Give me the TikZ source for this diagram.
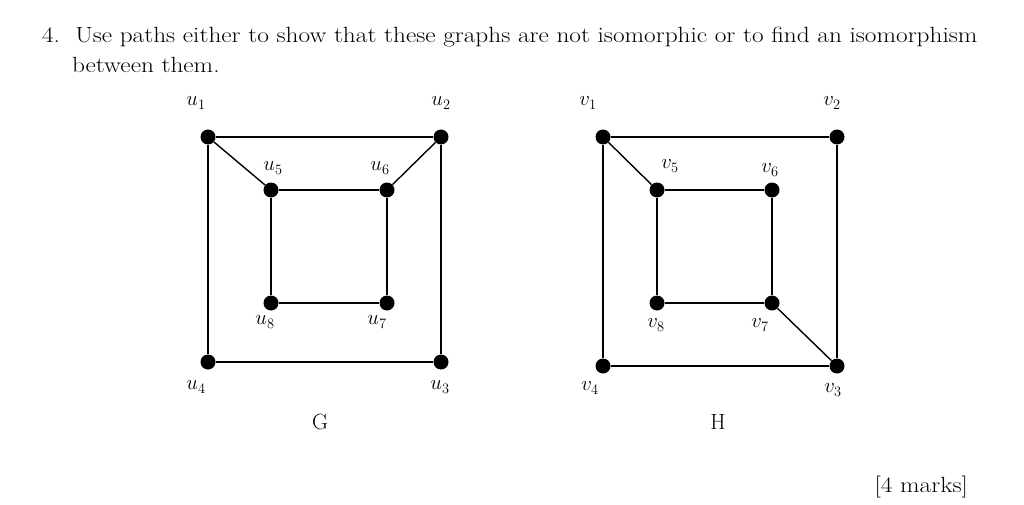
\documentclass[tikz,border=0pt]{standalone}
\begin{document}
\begin{tikzpicture}[x=1pt,y=-1pt,
  vtx/.style={circle,fill=black,inner sep=0pt,minimum size=15pt},
  lbl/.style={font=\fontsize{22}{24}\selectfont},
  edge/.style={line width=1.4pt}]
\useasboundingbox (0,0) rectangle (1024,505);
\node[lbl,anchor=west,xscale=1.15] (t1) at (38,37) {4.\ \ Use paths either to show that these graphs are not isomorphic or to find an isomorphism};
\node[lbl,anchor=west,xscale=1.15] (t2) at (68,65) {between them.};
\node[lbl,anchor=east,xscale=1.15] (mk) at (972,487) {[4 marks]};
\foreach \n/\x/\y in {u1/208/137,u2/441/137,u5/271/190,u6/387/190,u8/271/303,u7/387/303,u4/208/362,u3/441/362,
 v1/603/137,v2/837/137,v5/657/190,v6/772/190,v8/657/303,v7/772/303,v4/603/366,v3/837/366}
  \node[vtx] (\n) at (\x,\y) {};
\foreach \a/\b in {u1/u2,u1/u5,u2/u6,u5/u6,u5/u8,u6/u7,u8/u7,u1/u4,u2/u3,u4/u3,
 v1/v2,v1/v5,v5/v6,v6/v7,v5/v8,v8/v7,v7/v3,v1/v4,v2/v3,v4/v3}
  \draw[edge] (\a) -- (\b);
\foreach \n/\t/\x/\y in {lu1/u_1/196/103,lu2/u_2/441/103,lu5/u_5/273/168,lu6/u_6/380/168,lu8/u_8/265/322,lu7/u_7/377/322,lu4/u_4/196/387,lu3/u_3/440/387,
 lv1/v_1/588/103,lv2/v_2/832/103,lv5/v_5/670/166,lv6/v_6/770/170,lv8/v_8/656/325,lv7/v_7/760/325,lv4/v_4/590/388,lv3/v_3/833/390}
  \node[lbl] (\n) at (\x,\y) {$\t$};
\node[lbl] (G) at (320,422) {G};
\node[lbl] (H) at (718,422) {H};
\end{tikzpicture}
\end{document}
